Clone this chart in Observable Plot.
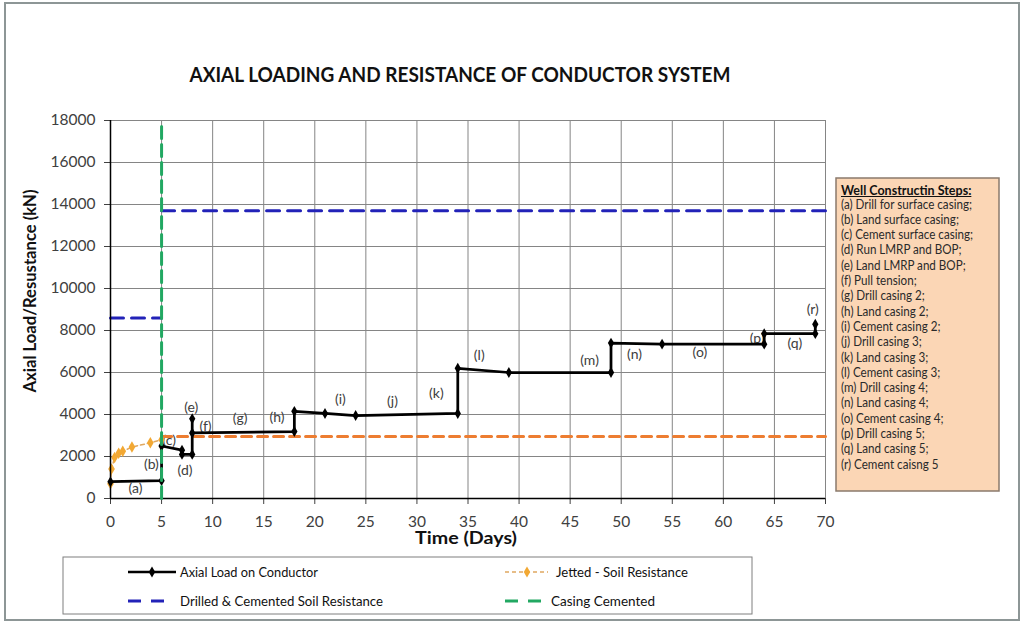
<!DOCTYPE html>
<html><head><meta charset="utf-8">
<script src="https://cdn.jsdelivr.net/npm/d3@7"></script>
<script src="https://cdn.jsdelivr.net/npm/@observablehq/plot@0.6"></script>
<style>
html,body{margin:0;padding:0;background:#fff;}
#chart{position:relative;width:1024px;height:625px;}
</style></head><body><div id="chart"></div>
<script>
// ---- data ----
const xTicks = [0, 5, 10, 15, 20, 25, 30, 35, 40, 45, 50, 55, 60, 65, 70];
const yTicks = [0, 2000, 4000, 6000, 8000, 10000, 12000, 14000, 16000, 18000];

// Axial Load on Conductor
const loadDays = [0, 5, 5, 7, 7, 8, 8, 8, 18, 18, 21, 24, 34, 34, 39, 49, 49, 54, 64, 64, 69, 69];
const loadKN   = [800, 850, 2500, 2300, 2100, 2100, 3800, 3120, 3190, 4150, 4050, 3950, 4050, 6200, 6000, 6000, 7400, 7350, 7350, 7850, 7850, 8300];

// Jetted - Soil Resistance
const jetDays = [0, 0.1, 0.4, 0.8, 1.2, 2.1, 3.9, 5];
const jetKN   = [700, 1400, 1950, 2150, 2250, 2450, 2650, 2800];
const jetFlatDays = [5, 70];
const jetFlatKN   = [2950, 2950];

// Drilled & Cemented Soil Resistance
const drilledDaysA = [0, 5];
const drilledKNA   = [8600, 8600];
const drilledDaysB = [5, 70];
const drilledKNB   = [13700, 13700];

// Casing Cemented
const cementedDays = [5, 5];
const cementedKN   = [0, 18000];

// step annotations
const stepTags   = ["(a)","(b)","(c)","(d)","(e)","(f)","(g)","(h)","(i)","(j)","(k)","(l)","(m)","(n)","(o)","(p)","(q)","(r)"];
const stepTagDay = [2.45, 4.0, 5.75, 7.3, 7.9, 9.3, 12.7, 16.3, 22.5, 27.6, 31.9, 36.1, 46.9, 51.3, 57.7, 63.3, 67.0, 68.75];
const stepTagKN  = [490, 1620, 2760, 1330, 4320, 3420, 3810, 3840, 4700, 4620, 5015, 6810, 6570, 6840, 6970, 7600, 7365, 8985];

const stepsTitle = "Well Constructin Steps:";
const stepDescriptions = [
  "(a) Drill for surface casing;", "(b) Land surface casing;", "(c) Cement surface casing;",
  "(d) Run LMRP and BOP;", "(e) Land LMRP and BOP;", "(f) Pull tension;",
  "(g) Drill casing 2;", "(h) Land casing 2;", "(i) Cement casing 2;",
  "(j) Drill casing 3;", "(k) Land casing 3;", "(l) Cement casing 3;",
  "(m) Drill casing 4;", "(n) Land casing 4;", "(o) Cement casing 4;",
  "(p) Drill casing 5;", "(q) Land casing 5;", "(r) Cement caisng 5"
];
const seriesNames = ["Axial Load on Conductor", "Jetted - Soil Resistance", "Drilled & Cemented Soil Resistance", "Casing Cemented"];
const chartTitle = "AXIAL LOADING AND RESISTANCE OF CONDUCTOR SYSTEM";
const xTitle = "Time (Days)";
const yTitle = "Axial Load/Resustance (kN)";

// ---- tables ----
const zip = (xs, ys) => xs.map((x, i) => ({x, y: ys[i]}));
const axial = zip(loadDays, loadKN);
const jet = zip(jetDays, jetKN);
const jetFlat = zip(jetFlatDays, jetFlatKN);
const drilledA = zip(drilledDaysA, drilledKNA);
const drilledB = zip(drilledDaysB, drilledKNB);
const cemented = zip(cementedDays, cementedKN);
const tags = stepTags.map((t, i) => ({t, x: stepTagDay[i], y: stepTagKN[i]}));

const C = {black: "#000", jetDot: "#F2A833", jetLine: "#E0A860", jetFlat: "#ED7D31", blue: "#2222B8", green: "#22A862"};
const FONT = "Lato, 'Open Sans', sans-serif";

const svgEl = Plot.plot({
  width: 1024, height: 625,
  marginLeft: 110, marginRight: 199, marginTop: 120, marginBottom: 127,
  style: {fontFamily: FONT, fontSize: "15.5px", color: "#404040", background: "transparent", overflow: "visible"},
  x: {domain: [0, 70], ticks: xTicks, tickSize: 6, tickPadding: 11, label: null, tickFormat: d => String(d)},
  y: {domain: [0, 18000], ticks: yTicks, tickSize: 6, tickPadding: 9, label: null, tickFormat: d => String(d)},
  marks: [
    Plot.ruleX(xTicks.slice(1), {stroke: "#858585", strokeWidth: 1}),
    Plot.ruleY(yTicks.slice(1), {stroke: "#858585", strokeWidth: 1}),
    Plot.text(tags, {x: "x", y: "y", text: "t", fill: "#404040", fontSize: 14}),
    Plot.line(drilledA, {x: "x", y: "y", stroke: C.blue, strokeWidth: 3, strokeDasharray: "13,8"}),
    Plot.line(drilledB, {x: "x", y: "y", stroke: C.blue, strokeWidth: 3, strokeDasharray: "13,8"}),
    Plot.line(jetFlat, {x: "x", y: "y", stroke: C.jetFlat, strokeWidth: 3, strokeDasharray: "10,6"}),
    Plot.line(jet, {x: "x", y: "y", stroke: C.jetLine, strokeWidth: 1.5, strokeDasharray: "4,3"}),
    Plot.dot(jet, {x: "x", y: "y", symbol: "diamond", r: 3.5, fill: C.jetDot}),
    Plot.ruleX([0], {stroke: "#000", strokeWidth: 1.5}),
    Plot.ruleY([0], {stroke: "#000", strokeWidth: 1.5}),
    Plot.line(axial, {x: "x", y: "y", stroke: C.black, strokeWidth: 2.75, curve: "linear"}),
    Plot.dot(axial, {x: "x", y: "y", symbol: "diamond", r: 3.3, fill: C.black}),
    Plot.line(cemented, {x: "x", y: "y", stroke: C.green, strokeWidth: 3, strokeDasharray: "12,6"})
  ]
});
document.getElementById("chart").appendChild(svgEl);

// ---- decorations ----
const svg = d3.select(svgEl);
svg.append("rect").attr("x", 5).attr("y", 3).attr("width", 1014).attr("height", 617)
  .attr("fill", "none").attr("stroke", "#8d9696").attr("stroke-width", 2);

svg.append("text").attr("x", 460).attr("y", 82).attr("text-anchor", "middle")
  .attr("font-family", FONT).attr("font-weight", "bold").attr("font-size", 21).attr("fill", "#111")
  .attr("textLength", 541).attr("lengthAdjust", "spacingAndGlyphs").text(chartTitle);

svg.append("text").attr("transform", "translate(36,291) rotate(-90)").attr("text-anchor", "middle")
  .attr("font-family", FONT).attr("font-weight", "bold").attr("font-size", 16.5).attr("fill", "#111")
  .attr("textLength", 203).attr("lengthAdjust", "spacingAndGlyphs").text(yTitle);

svg.append("text").attr("x", 466).attr("y", 544).attr("text-anchor", "middle")
  .attr("font-family", FONT).attr("font-weight", "bold").attr("font-size", 16.5).attr("fill", "#111")
  .attr("textLength", 102).attr("lengthAdjust", "spacingAndGlyphs").text(xTitle);

// legend box
const lg = svg.append("g").attr("text-anchor", "start");
lg.append("rect").attr("x", 63).attr("y", 557).attr("width", 689).attr("height", 57)
  .attr("fill", "#fff").attr("stroke", "#7f7f7f").attr("stroke-width", 1);
const diamond = d3.symbol(d3.symbolDiamond, 36)();
lg.append("line").attr("x1", 128).attr("x2", 176).attr("y1", 572).attr("y2", 572).attr("stroke", C.black).attr("stroke-width", 2.5);
lg.append("path").attr("d", diamond).attr("transform", "translate(152,572)").attr("fill", C.black);
lg.append("line").attr("x1", 505).attr("x2", 548).attr("y1", 572).attr("y2", 572).attr("stroke", C.jetLine).attr("stroke-width", 1.5).attr("stroke-dasharray", "4,3");
lg.append("path").attr("d", diamond).attr("transform", "translate(527,572)").attr("fill", C.jetDot);
lg.append("line").attr("x1", 128).attr("x2", 164).attr("y1", 601).attr("y2", 601).attr("stroke", C.blue).attr("stroke-width", 3).attr("stroke-dasharray", "13,10");
lg.append("line").attr("x1", 505).attr("x2", 541).attr("y1", 601).attr("y2", 601).attr("stroke", C.green).attr("stroke-width", 3).attr("stroke-dasharray", "13,10");
const legPos = [[180, 577, 138], [556, 577, 132], [180, 606, 203], [551, 606, 104]];
seriesNames.forEach((n, i) => {
  lg.append("text").attr("x", legPos[i][0]).attr("y", legPos[i][1]).attr("text-anchor", "start")
    .attr("font-family", FONT).attr("font-size", 13.5).attr("fill", "#111")
    .attr("textLength", legPos[i][2]).attr("lengthAdjust", "spacingAndGlyphs").text(n);
});

// steps box
const sb = svg.append("g").attr("text-anchor", "start");
sb.append("rect").attr("x", 836).attr("y", 178).attr("width", 163).attr("height", 313)
  .attr("fill", "#FBD6B5").attr("stroke", "#8a7a6c").attr("stroke-width", 1.5);
const st = sb.append("text").attr("x", 841).attr("y", 194.5).attr("text-anchor", "start")
  .attr("font-family", FONT).attr("font-weight", "bold").attr("font-size", 12.5).attr("fill", "#111")
  .text(stepsTitle);
stepDescriptions.forEach((s, i) => {
  const t = sb.append("text").attr("x", 841).attr("y", 208.5 + i * 15.3).attr("text-anchor", "start")
    .attr("font-family", FONT).attr("font-size", 12.5).attr("fill", "#2a2a2a").text(s);
  const w = t.node().getComputedTextLength();
  t.attr("textLength", w * 0.93).attr("lengthAdjust", "spacingAndGlyphs");
});
const tw = st.node().getComputedTextLength();
sb.append("line").attr("x1", 841).attr("x2", 841 + tw).attr("y1", 196.5).attr("y2", 196.5).attr("stroke", "#111").attr("stroke-width", 1);
</script></body></html>
